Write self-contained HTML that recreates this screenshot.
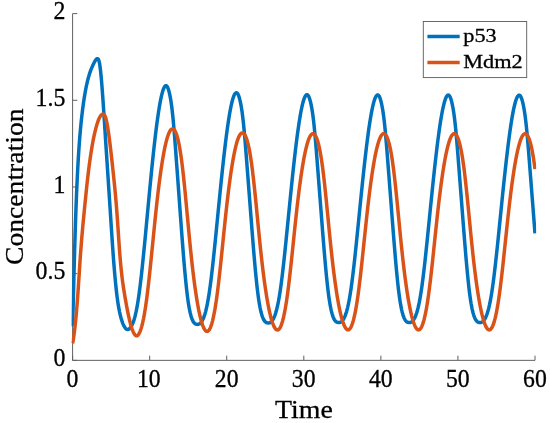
<!DOCTYPE html>
<html><head><meta charset="utf-8"><title>p53 Mdm2</title>
<style>
html,body{margin:0;padding:0;background:#fff;}
svg{display:block;}
text{font-family:"Liberation Serif",serif;fill:#000;stroke:#000;stroke-width:0.3px;}
</style></head>
<body>
<svg width="550" height="423" viewBox="0 0 550 423">
<rect width="550" height="423" fill="#fff"/>
<path d="M72.6,13.6 V360.35 H535.0 M72.60,360.35 v-4.7 M149.67,360.35 v-4.7 M226.73,360.35 v-4.7 M303.80,360.35 v-4.7 M380.87,360.35 v-4.7 M457.93,360.35 v-4.7 M535.00,360.35 v-4.7 M72.6,360.35 h4.7 M72.6,273.66 h4.7 M72.6,186.98 h4.7 M72.6,100.29 h4.7 M72.6,13.60 h4.7" fill="none" stroke="#606060" stroke-width="1"/>
<clipPath id="c"><rect x="71.6" y="11.6" width="464.59999999999997" height="348.75"/></clipPath>
<g clip-path="url(#c)" fill="none" stroke-width="3.5" stroke-linejoin="round" stroke-linecap="butt">
<path d="M72.6,326.2 L73.1,307.8 L73.6,288.7 L74.1,269.6 L74.6,251.4 L75.1,234.6 L75.6,219.3 L76.1,205.4 L76.6,192.8 L77.1,181.4 L77.6,171.1 L78.1,161.9 L78.6,153.6 L79.1,146.1 L79.6,139.4 L80.1,133.4 L80.6,127.8 L81.1,122.7 L81.6,118.0 L82.1,113.6 L82.6,109.5 L83.1,105.7 L83.6,102.1 L84.1,98.8 L84.6,95.7 L85.1,92.7 L85.6,90.0 L86.1,87.4 L86.6,85.0 L87.1,82.8 L87.6,80.7 L88.1,78.7 L88.6,76.9 L89.1,75.2 L89.6,73.6 L90.1,72.1 L90.6,70.7 L91.1,69.4 L91.6,68.2 L92.1,67.0 L92.6,65.9 L93.1,64.8 L93.6,63.8 L94.1,62.8 L94.6,61.8 L95.1,60.9 L95.6,60.1 L96.1,59.4 L96.6,58.9 L97.1,58.7 L97.6,58.7 L98.1,59.0 L98.6,59.8 L99.1,61.4 L99.6,63.7 L100.1,67.1 L100.6,71.3 L101.1,76.2 L101.6,81.9 L102.1,88.1 L102.6,94.8 L103.1,101.9 L103.6,109.3 L104.1,117.0 L104.6,124.7 L105.1,132.4 L105.6,140.1 L106.1,147.8 L106.6,155.4 L107.1,163.0 L107.6,170.6 L108.1,178.2 L108.6,185.8 L109.1,193.4 L109.6,201.0 L110.1,208.7 L110.6,216.4 L111.1,224.1 L111.6,231.7 L112.1,239.2 L112.6,246.5 L113.1,253.6 L113.6,260.3 L114.1,266.6 L114.6,272.6 L115.1,278.2 L115.6,283.4 L116.1,288.3 L116.6,292.8 L117.1,296.9 L117.6,300.6 L118.1,303.9 L118.6,306.9 L119.1,309.6 L119.6,312.1 L120.1,314.3 L120.6,316.3 L121.1,318.2 L121.6,319.9 L122.1,321.4 L122.6,322.8 L123.1,324.1 L123.6,325.2 L124.1,326.2 L124.6,327.1 L125.1,327.8 L125.6,328.4 L126.1,328.9 L126.6,329.2 L127.1,329.4 L127.6,329.5 L128.1,329.5 L128.6,329.3 L129.1,329.0 L129.6,328.5 L130.1,328.0 L130.6,327.3 L131.1,326.6 L131.6,325.8 L132.1,324.8 L132.6,323.7 L133.1,322.5 L133.6,321.1 L134.1,319.6 L134.6,317.9 L135.1,316.0 L135.6,313.9 L136.1,311.7 L136.6,309.2 L137.1,306.6 L137.6,303.7 L138.1,300.6 L138.6,297.3 L139.1,293.8 L139.6,290.0 L140.1,286.1 L140.6,281.9 L141.1,277.6 L141.6,273.2 L142.1,268.6 L142.6,263.8 L143.1,258.9 L143.6,254.0 L144.1,248.9 L144.6,243.8 L145.1,238.6 L145.6,233.3 L146.1,228.0 L146.6,222.7 L147.1,217.3 L147.6,212.0 L148.1,206.7 L148.6,201.4 L149.1,196.1 L149.6,190.9 L150.1,185.7 L150.6,180.6 L151.1,175.5 L151.6,170.5 L152.1,165.6 L152.6,160.8 L153.1,156.0 L153.6,151.4 L154.1,146.8 L154.6,142.4 L155.1,138.0 L155.6,133.8 L156.1,129.8 L156.6,125.8 L157.1,122.0 L157.6,118.4 L158.1,114.9 L158.6,111.6 L159.1,108.4 L159.6,105.4 L160.1,102.6 L160.6,100.0 L161.1,97.6 L161.6,95.4 L162.1,93.4 L162.6,91.6 L163.1,90.0 L163.6,88.7 L164.1,87.6 L164.6,86.7 L165.1,86.1 L165.6,85.8 L166.1,85.7 L166.6,85.9 L167.1,86.5 L167.6,87.3 L168.1,88.5 L168.6,90.0 L169.1,91.8 L169.6,93.9 L170.1,96.4 L170.6,99.1 L171.1,102.2 L171.6,105.8 L172.1,109.7 L172.6,114.2 L173.1,119.1 L173.6,124.6 L174.1,130.5 L174.6,136.7 L175.1,143.1 L175.6,149.7 L176.1,156.5 L176.6,163.3 L177.1,170.0 L177.6,176.9 L178.1,183.7 L178.6,190.5 L179.1,197.3 L179.6,204.2 L180.1,211.0 L180.6,217.8 L181.1,224.6 L181.6,231.3 L182.1,238.0 L182.6,244.5 L183.1,250.9 L183.6,257.1 L184.1,263.1 L184.6,268.8 L185.1,274.4 L185.6,279.7 L186.1,284.6 L186.6,289.3 L187.1,293.6 L187.6,297.6 L188.1,301.2 L188.6,304.4 L189.1,307.4 L189.6,310.0 L190.1,312.4 L190.6,314.4 L191.1,316.3 L191.6,317.9 L192.1,319.2 L192.6,320.4 L193.1,321.4 L193.6,322.2 L194.1,322.8 L194.6,323.3 L195.1,323.7 L195.6,324.0 L196.1,324.2 L196.6,324.3 L197.1,324.4 L197.6,324.4 L198.1,324.3 L198.6,324.2 L199.1,324.0 L199.6,323.8 L200.1,323.4 L200.6,322.9 L201.1,322.4 L201.6,321.7 L202.1,320.9 L202.6,320.0 L203.1,319.0 L203.6,317.8 L204.1,316.5 L204.6,315.0 L205.1,313.4 L205.6,311.6 L206.1,309.6 L206.6,307.4 L207.1,305.1 L207.6,302.6 L208.1,299.8 L208.6,296.9 L209.1,293.7 L209.6,290.3 L210.1,286.7 L210.6,283.0 L211.1,279.0 L211.6,274.9 L212.1,270.6 L212.6,266.2 L213.1,261.7 L213.6,257.0 L214.1,252.3 L214.6,247.4 L215.1,242.5 L215.6,237.6 L216.1,232.5 L216.6,227.5 L217.1,222.4 L217.6,217.3 L218.1,212.2 L218.6,207.2 L219.1,202.1 L219.6,197.1 L220.1,192.1 L220.6,187.2 L221.1,182.3 L221.6,177.5 L222.1,172.8 L222.6,168.1 L223.1,163.5 L223.6,159.0 L224.1,154.5 L224.6,150.2 L225.1,146.0 L225.6,141.9 L226.1,137.9 L226.6,134.0 L227.1,130.3 L227.6,126.7 L228.1,123.2 L228.6,119.9 L229.1,116.8 L229.6,113.8 L230.1,111.0 L230.6,108.3 L231.1,105.9 L231.6,103.6 L232.1,101.5 L232.6,99.7 L233.1,98.0 L233.6,96.5 L234.1,95.3 L234.6,94.3 L235.1,93.6 L235.6,93.0 L236.1,92.8 L236.6,92.7 L237.1,93.0 L237.6,93.5 L238.1,94.4 L238.6,95.6 L239.1,97.0 L239.6,98.8 L240.1,100.8 L240.6,103.1 L241.1,105.8 L241.6,108.8 L242.1,112.1 L242.6,115.9 L243.1,120.1 L243.6,124.8 L244.1,130.0 L244.6,135.6 L245.1,141.4 L245.6,147.5 L246.1,153.8 L246.6,160.2 L247.1,166.6 L247.6,173.1 L248.1,179.5 L248.6,186.0 L249.1,192.5 L249.6,199.0 L250.1,205.5 L250.6,212.0 L251.1,218.5 L251.6,224.9 L252.1,231.3 L252.6,237.7 L253.1,243.9 L253.6,250.0 L254.1,255.9 L254.6,261.7 L255.1,267.3 L255.6,272.6 L256.1,277.7 L256.6,282.6 L257.1,287.2 L257.6,291.4 L258.1,295.3 L258.6,298.9 L259.1,302.2 L259.6,305.1 L260.1,307.8 L260.6,310.2 L261.1,312.3 L261.6,314.1 L262.1,315.8 L262.6,317.2 L263.1,318.4 L263.6,319.5 L264.1,320.3 L264.6,321.1 L265.1,321.6 L265.6,322.1 L266.1,322.4 L266.6,322.7 L267.1,322.8 L267.6,322.9 L268.1,323.0 L268.6,323.0 L269.1,322.9 L269.6,322.8 L270.1,322.6 L270.6,322.3 L271.1,321.9 L271.6,321.4 L272.1,320.9 L272.6,320.2 L273.1,319.3 L273.6,318.4 L274.1,317.3 L274.6,316.1 L275.1,314.8 L275.6,313.3 L276.1,311.6 L276.6,309.7 L277.1,307.7 L277.6,305.5 L278.1,303.1 L278.6,300.5 L279.1,297.7 L279.6,294.7 L280.1,291.5 L280.6,288.1 L281.1,284.4 L281.6,280.6 L282.1,276.6 L282.6,272.5 L283.1,268.2 L283.6,263.7 L284.1,259.2 L284.6,254.5 L285.1,249.8 L285.6,244.9 L286.1,240.0 L286.6,235.0 L287.1,230.0 L287.6,225.0 L288.1,220.0 L288.6,214.9 L289.1,209.9 L289.6,204.8 L290.1,199.8 L290.6,194.9 L291.1,190.0 L291.6,185.1 L292.1,180.3 L292.6,175.5 L293.1,170.9 L293.6,166.3 L294.1,161.8 L294.6,157.3 L295.1,153.0 L295.6,148.8 L296.1,144.6 L296.6,140.6 L297.1,136.8 L297.6,133.0 L298.1,129.4 L298.6,125.9 L299.1,122.6 L299.6,119.4 L300.1,116.4 L300.6,113.5 L301.1,110.8 L301.6,108.4 L302.1,106.0 L302.6,103.9 L303.1,102.0 L303.6,100.3 L304.1,98.8 L304.6,97.5 L305.1,96.5 L305.6,95.7 L306.1,95.1 L306.6,94.8 L307.1,94.7 L307.6,94.9 L308.1,95.4 L308.6,96.2 L309.1,97.3 L309.6,98.7 L310.1,100.4 L310.6,102.3 L311.1,104.6 L311.6,107.2 L312.1,110.1 L312.6,113.3 L313.1,117.0 L313.6,121.1 L314.1,125.7 L314.6,130.8 L315.1,136.3 L315.6,142.1 L316.1,148.1 L316.6,154.3 L317.1,160.6 L317.6,167.0 L318.1,173.4 L318.6,179.8 L319.1,186.3 L319.6,192.7 L320.1,199.1 L320.6,205.6 L321.1,212.0 L321.6,218.5 L322.1,224.9 L322.6,231.3 L323.1,237.5 L323.6,243.7 L324.1,249.8 L324.6,255.7 L325.1,261.4 L325.6,267.0 L326.1,272.3 L326.6,277.4 L327.1,282.3 L327.6,286.8 L328.1,291.1 L328.6,295.0 L329.1,298.5 L329.6,301.8 L330.1,304.7 L330.6,307.4 L331.1,309.8 L331.6,311.9 L332.1,313.8 L332.6,315.4 L333.1,316.8 L333.6,318.1 L334.1,319.1 L334.6,320.0 L335.1,320.7 L335.6,321.2 L336.1,321.7 L336.6,322.0 L337.1,322.3 L337.6,322.4 L338.1,322.5 L338.6,322.6 L339.1,322.6 L339.6,322.5 L340.1,322.4 L340.6,322.2 L341.1,321.9 L341.6,321.5 L342.1,321.1 L342.6,320.5 L343.1,319.8 L343.6,319.0 L344.1,318.1 L344.6,317.0 L345.1,315.8 L345.6,314.5 L346.1,313.0 L346.6,311.4 L347.1,309.5 L347.6,307.6 L348.1,305.4 L348.6,303.0 L349.1,300.5 L349.6,297.7 L350.1,294.8 L350.6,291.6 L351.1,288.2 L351.6,284.6 L352.1,280.8 L352.6,276.9 L353.1,272.8 L353.6,268.6 L354.1,264.2 L354.6,259.7 L355.1,255.1 L355.6,250.4 L356.1,245.6 L356.6,240.7 L357.1,235.8 L357.6,230.9 L358.1,225.9 L358.6,220.9 L359.1,215.8 L359.6,210.8 L360.1,205.8 L360.6,200.9 L361.1,195.9 L361.6,191.1 L362.1,186.2 L362.6,181.4 L363.1,176.7 L363.6,172.1 L364.1,167.5 L364.6,163.0 L365.1,158.5 L365.6,154.2 L366.1,150.0 L366.6,145.9 L367.1,141.9 L367.6,138.0 L368.1,134.2 L368.6,130.6 L369.1,127.1 L369.6,123.7 L370.1,120.5 L370.6,117.5 L371.1,114.6 L371.6,111.9 L372.1,109.3 L372.6,107.0 L373.1,104.8 L373.6,102.9 L374.1,101.1 L374.6,99.5 L375.1,98.2 L375.6,97.1 L376.1,96.2 L376.6,95.5 L377.1,95.1 L377.6,94.9 L378.1,95.0 L378.6,95.4 L379.1,96.1 L379.6,97.0 L380.1,98.3 L380.6,99.9 L381.1,101.8 L381.6,104.0 L382.1,106.5 L382.6,109.3 L383.1,112.4 L383.6,116.0 L384.1,119.9 L384.6,124.4 L385.1,129.4 L385.6,134.8 L386.1,140.5 L386.6,146.5 L387.1,152.7 L387.6,159.0 L388.1,165.4 L388.6,171.9 L389.1,178.3 L389.6,184.8 L390.1,191.2 L390.6,197.7 L391.1,204.2 L391.6,210.7 L392.1,217.2 L392.6,223.6 L393.1,230.0 L393.6,236.4 L394.1,242.6 L394.6,248.7 L395.1,254.7 L395.6,260.5 L396.1,266.1 L396.6,271.5 L397.1,276.7 L397.6,281.6 L398.1,286.2 L398.6,290.5 L399.1,294.5 L399.6,298.1 L400.1,301.4 L400.6,304.4 L401.1,307.1 L401.6,309.6 L402.1,311.7 L402.6,313.6 L403.1,315.3 L403.6,316.7 L404.1,318.0 L404.6,319.0 L405.1,319.9 L405.6,320.6 L406.1,321.2 L406.6,321.7 L407.1,322.0 L407.6,322.3 L408.1,322.4 L408.6,322.5 L409.1,322.6 L409.6,322.6 L410.1,322.5 L410.6,322.4 L411.1,322.2 L411.6,321.9 L412.1,321.5 L412.6,321.1 L413.1,320.5 L413.6,319.8 L414.1,319.0 L414.6,318.1 L415.1,317.1 L415.6,315.9 L416.1,314.5 L416.6,313.1 L417.1,311.4 L417.6,309.6 L418.1,307.7 L418.6,305.5 L419.1,303.2 L419.6,300.6 L420.1,297.9 L420.6,295.0 L421.1,291.8 L421.6,288.4 L422.1,284.9 L422.6,281.1 L423.1,277.2 L423.6,273.1 L424.1,268.9 L424.6,264.6 L425.1,260.1 L425.6,255.5 L426.1,250.8 L426.6,246.0 L427.1,241.2 L427.6,236.3 L428.1,231.4 L428.6,226.4 L429.1,221.4 L429.6,216.4 L430.1,211.4 L430.6,206.4 L431.1,201.5 L431.6,196.6 L432.1,191.7 L432.6,186.9 L433.1,182.1 L433.6,177.4 L434.1,172.7 L434.6,168.1 L435.1,163.6 L435.6,159.2 L436.1,154.9 L436.6,150.7 L437.1,146.5 L437.6,142.5 L438.1,138.6 L438.6,134.9 L439.1,131.2 L439.6,127.7 L440.1,124.3 L440.6,121.1 L441.1,118.1 L441.6,115.2 L442.1,112.4 L442.6,109.9 L443.1,107.5 L443.6,105.3 L444.1,103.3 L444.6,101.5 L445.1,99.9 L445.6,98.5 L446.1,97.4 L446.6,96.4 L447.1,95.7 L447.6,95.2 L448.1,95.0 L448.6,95.1 L449.1,95.4 L449.6,96.0 L450.1,96.9 L450.6,98.1 L451.1,99.6 L451.6,101.4 L452.1,103.6 L452.6,106.0 L453.1,108.7 L453.6,111.7 L454.1,115.2 L454.6,119.0 L455.1,123.4 L455.6,128.2 L456.1,133.5 L456.6,139.1 L457.1,145.0 L457.6,151.1 L458.1,157.4 L458.6,163.8 L459.1,170.2 L459.6,176.6 L460.1,183.1 L460.6,189.5 L461.1,196.0 L461.6,202.4 L462.1,208.9 L462.6,215.3 L463.1,221.8 L463.6,228.2 L464.1,234.5 L464.6,240.8 L465.1,246.9 L465.6,252.9 L466.1,258.8 L466.6,264.4 L467.1,269.9 L467.6,275.1 L468.1,280.1 L468.6,284.8 L469.1,289.2 L469.6,293.2 L470.1,297.0 L470.6,300.4 L471.1,303.5 L471.6,306.2 L472.1,308.8 L472.6,311.0 L473.1,313.0 L473.6,314.7 L474.1,316.2 L474.6,317.6 L475.1,318.7 L475.6,319.6 L476.1,320.4 L476.6,321.0 L477.1,321.5 L477.6,321.9 L478.1,322.2 L478.6,322.4 L479.1,322.5 L479.6,322.6 L480.1,322.6 L480.6,322.6 L481.1,322.5 L481.6,322.3 L482.1,322.0 L482.6,321.7 L483.1,321.3 L483.6,320.8 L484.1,320.1 L484.6,319.4 L485.1,318.5 L485.6,317.6 L486.1,316.4 L486.6,315.2 L487.1,313.8 L487.6,312.2 L488.1,310.5 L488.6,308.7 L489.1,306.6 L489.6,304.4 L490.1,301.9 L490.6,299.3 L491.1,296.5 L491.6,293.5 L492.1,290.2 L492.6,286.8 L493.1,283.2 L493.6,279.4 L494.1,275.4 L494.6,271.3 L495.1,267.0 L495.6,262.6 L496.1,258.1 L496.6,253.5 L497.1,248.9 L497.6,244.1 L498.1,239.3 L498.6,234.4 L499.1,229.4 L499.6,224.5 L500.1,219.5 L500.6,214.6 L501.1,209.6 L501.6,204.7 L502.1,199.7 L502.6,194.9 L503.1,190.0 L503.6,185.3 L504.1,180.5 L504.6,175.9 L505.1,171.3 L505.6,166.7 L506.1,162.3 L506.6,157.9 L507.1,153.7 L507.6,149.5 L508.1,145.4 L508.6,141.5 L509.1,137.6 L509.6,133.9 L510.1,130.3 L510.6,126.9 L511.1,123.6 L511.6,120.4 L512.1,117.4 L512.6,114.6 L513.1,111.9 L513.6,109.4 L514.1,107.1 L514.6,105.0 L515.1,103.0 L515.6,101.3 L516.1,99.8 L516.6,98.4 L517.1,97.3 L517.6,96.4 L518.1,95.8 L518.6,95.4 L519.1,95.2 L519.6,95.3 L520.1,95.7 L520.6,96.3 L521.1,97.3 L521.6,98.6 L522.1,100.1 L522.6,101.9 L523.1,104.1 L523.6,106.5 L524.1,109.3 L524.6,112.4 L525.1,115.8 L525.6,119.7 L526.1,124.1 L526.6,128.9 L527.1,134.2 L527.6,139.8 L528.1,145.7 L528.6,151.8 L529.1,158.1 L529.6,164.4 L530.1,170.8 L530.6,177.1 L531.1,183.5 L531.6,189.9 L532.1,196.3 L532.6,202.7 L533.1,209.1 L533.6,215.6 L534.1,222.0 L534.6,228.3 L535.0,233.3" stroke="#0072BD"/>
<path d="M72.6,343.4 L73.1,340.7 L73.6,337.6 L74.1,334.1 L74.6,330.2 L75.1,325.9 L75.6,321.2 L76.1,316.0 L76.6,310.4 L77.1,304.2 L77.6,297.6 L78.1,290.5 L78.6,282.9 L79.1,275.3 L79.6,267.6 L80.1,260.0 L80.6,252.9 L81.1,246.3 L81.6,240.0 L82.1,234.1 L82.6,228.4 L83.1,223.0 L83.6,217.8 L84.1,212.7 L84.6,207.6 L85.1,202.5 L85.6,197.6 L86.1,192.7 L86.6,187.9 L87.1,183.3 L87.6,178.8 L88.1,174.5 L88.6,170.3 L89.1,166.3 L89.6,162.5 L90.1,158.9 L90.6,155.5 L91.1,152.2 L91.6,149.1 L92.1,146.1 L92.6,143.3 L93.1,140.6 L93.6,138.1 L94.1,135.7 L94.6,133.4 L95.1,131.3 L95.6,129.3 L96.1,127.4 L96.6,125.6 L97.1,124.0 L97.6,122.4 L98.1,121.0 L98.6,119.7 L99.1,118.5 L99.6,117.5 L100.1,116.6 L100.6,115.8 L101.1,115.2 L101.6,114.7 L102.1,114.3 L102.6,114.1 L103.1,114.0 L103.6,114.1 L104.1,114.5 L104.6,115.2 L105.1,116.2 L105.6,117.5 L106.1,119.3 L106.6,121.4 L107.1,123.9 L107.6,126.7 L108.1,129.8 L108.6,133.2 L109.1,136.8 L109.6,140.7 L110.1,144.7 L110.6,148.9 L111.1,153.3 L111.6,157.7 L112.1,162.3 L112.6,166.9 L113.1,171.6 L113.6,176.3 L114.1,181.1 L114.6,186.0 L115.1,191.2 L115.6,196.6 L116.1,202.4 L116.6,208.6 L117.1,215.2 L117.6,222.3 L118.1,229.7 L118.6,237.1 L119.1,244.4 L119.6,251.3 L120.1,257.7 L120.6,263.4 L121.1,268.6 L121.6,273.3 L122.1,277.6 L122.6,281.5 L123.1,285.1 L123.6,288.4 L124.1,291.6 L124.6,294.6 L125.1,297.6 L125.6,300.4 L126.1,303.2 L126.6,306.0 L127.1,308.6 L127.6,311.1 L128.1,313.6 L128.6,315.9 L129.1,318.1 L129.6,320.3 L130.1,322.3 L130.6,324.2 L131.1,325.9 L131.6,327.6 L132.1,329.1 L132.6,330.4 L133.1,331.6 L133.6,332.7 L134.1,333.6 L134.6,334.4 L135.1,335.0 L135.6,335.4 L136.1,335.7 L136.6,335.8 L137.1,335.7 L137.6,335.4 L138.1,334.9 L138.6,334.3 L139.1,333.5 L139.6,332.5 L140.1,331.4 L140.6,330.0 L141.1,328.6 L141.6,326.9 L142.1,325.0 L142.6,323.0 L143.1,320.7 L143.6,318.3 L144.1,315.6 L144.6,312.8 L145.1,309.7 L145.6,306.5 L146.1,303.1 L146.6,299.4 L147.1,295.6 L147.6,291.5 L148.1,287.3 L148.6,283.0 L149.1,278.5 L149.6,273.8 L150.1,269.1 L150.6,264.3 L151.1,259.4 L151.6,254.4 L152.1,249.4 L152.6,244.4 L153.1,239.3 L153.6,234.3 L154.1,229.3 L154.6,224.4 L155.1,219.5 L155.6,214.6 L156.1,209.9 L156.6,205.3 L157.1,200.8 L157.6,196.4 L158.1,192.1 L158.6,188.0 L159.1,184.0 L159.6,180.1 L160.1,176.4 L160.6,172.8 L161.1,169.3 L161.6,165.9 L162.1,162.7 L162.6,159.6 L163.1,156.7 L163.6,153.9 L164.1,151.2 L164.6,148.7 L165.1,146.3 L165.6,144.1 L166.1,142.0 L166.6,140.1 L167.1,138.3 L167.6,136.7 L168.1,135.2 L168.6,133.9 L169.1,132.7 L169.6,131.7 L170.1,130.8 L170.6,130.1 L171.1,129.6 L171.6,129.2 L172.1,129.0 L172.6,128.9 L173.1,129.0 L173.6,129.3 L174.1,129.7 L174.6,130.3 L175.1,131.1 L175.6,132.1 L176.1,133.3 L176.6,134.6 L177.1,136.2 L177.6,138.0 L178.1,140.0 L178.6,142.2 L179.1,144.6 L179.6,147.3 L180.1,150.2 L180.6,153.4 L181.1,156.8 L181.6,160.5 L182.1,164.4 L182.6,168.5 L183.1,172.9 L183.6,177.5 L184.1,182.2 L184.6,187.1 L185.1,192.2 L185.6,197.3 L186.1,202.6 L186.6,207.9 L187.1,213.3 L187.6,218.7 L188.1,224.1 L188.6,229.4 L189.1,234.7 L189.6,239.9 L190.1,245.0 L190.6,250.0 L191.1,254.8 L191.6,259.5 L192.1,264.0 L192.6,268.4 L193.1,272.6 L193.6,276.7 L194.1,280.6 L194.6,284.4 L195.1,288.0 L195.6,291.5 L196.1,294.8 L196.6,298.0 L197.1,301.1 L197.6,304.0 L198.1,306.8 L198.6,309.4 L199.1,311.9 L199.6,314.2 L200.1,316.4 L200.6,318.4 L201.1,320.3 L201.6,322.1 L202.1,323.7 L202.6,325.1 L203.1,326.4 L203.6,327.6 L204.1,328.6 L204.6,329.4 L205.1,330.1 L205.6,330.7 L206.1,331.1 L206.6,331.3 L207.1,331.4 L207.6,331.3 L208.1,331.1 L208.6,330.6 L209.1,330.0 L209.6,329.2 L210.1,328.2 L210.6,327.1 L211.1,325.7 L211.6,324.2 L212.1,322.5 L212.6,320.6 L213.1,318.5 L213.6,316.2 L214.1,313.7 L214.6,311.1 L215.1,308.2 L215.6,305.1 L216.1,301.9 L216.6,298.4 L217.1,294.8 L217.6,290.9 L218.1,286.9 L218.6,282.7 L219.1,278.3 L219.6,273.8 L220.1,269.2 L220.6,264.5 L221.1,259.8 L221.6,254.9 L222.1,250.1 L222.6,245.2 L223.1,240.2 L223.6,235.3 L224.1,230.4 L224.6,225.6 L225.1,220.8 L225.6,216.0 L226.1,211.4 L226.6,206.9 L227.1,202.5 L227.6,198.2 L228.1,194.0 L228.6,189.9 L229.1,186.0 L229.6,182.2 L230.1,178.6 L230.6,175.0 L231.1,171.6 L231.6,168.4 L232.1,165.2 L232.6,162.2 L233.1,159.4 L233.6,156.6 L234.1,154.1 L234.6,151.6 L235.1,149.3 L235.6,147.2 L236.1,145.1 L236.6,143.3 L237.1,141.6 L237.6,140.0 L238.1,138.6 L238.6,137.3 L239.1,136.2 L239.6,135.3 L240.1,134.5 L240.6,133.9 L241.1,133.4 L241.6,133.1 L242.1,132.9 L242.6,132.9 L243.1,133.1 L243.6,133.4 L244.1,133.9 L244.6,134.5 L245.1,135.3 L245.6,136.3 L246.1,137.5 L246.6,138.9 L247.1,140.4 L247.6,142.2 L248.1,144.1 L248.6,146.3 L249.1,148.6 L249.6,151.2 L250.1,154.1 L250.6,157.1 L251.1,160.4 L251.6,163.9 L252.1,167.7 L252.6,171.7 L253.1,175.9 L253.6,180.2 L254.1,184.8 L254.6,189.5 L255.1,194.3 L255.6,199.2 L256.1,204.2 L256.6,209.3 L257.1,214.5 L257.6,219.6 L258.1,224.8 L258.6,229.9 L259.1,235.0 L259.6,240.0 L260.1,244.9 L260.6,249.7 L261.1,254.3 L261.6,258.8 L262.1,263.2 L262.6,267.4 L263.1,271.5 L263.6,275.4 L264.1,279.2 L264.6,282.9 L265.1,286.4 L265.6,289.8 L266.1,293.1 L266.6,296.2 L267.1,299.2 L267.6,302.0 L268.1,304.8 L268.6,307.3 L269.1,309.8 L269.6,312.1 L270.1,314.2 L270.6,316.3 L271.1,318.2 L271.6,319.9 L272.1,321.5 L272.6,323.0 L273.1,324.4 L273.6,325.6 L274.1,326.6 L274.6,327.5 L275.1,328.3 L275.6,328.9 L276.1,329.4 L276.6,329.8 L277.1,329.9 L277.6,330.0 L278.1,329.9 L278.6,329.6 L279.1,329.1 L279.6,328.5 L280.1,327.7 L280.6,326.7 L281.1,325.5 L281.6,324.2 L282.1,322.6 L282.6,320.9 L283.1,319.0 L283.6,317.0 L284.1,314.7 L284.6,312.2 L285.1,309.6 L285.6,306.7 L286.1,303.7 L286.6,300.5 L287.1,297.1 L287.6,293.4 L288.1,289.6 L288.6,285.6 L289.1,281.5 L289.6,277.2 L290.1,272.8 L290.6,268.3 L291.1,263.7 L291.6,259.0 L292.1,254.2 L292.6,249.4 L293.1,244.6 L293.6,239.8 L294.1,234.9 L294.6,230.1 L295.1,225.3 L295.6,220.6 L296.1,216.0 L296.6,211.4 L297.1,206.9 L297.6,202.6 L298.1,198.4 L298.6,194.3 L299.1,190.3 L299.6,186.4 L300.1,182.7 L300.6,179.1 L301.1,175.6 L301.6,172.2 L302.1,169.0 L302.6,165.9 L303.1,163.0 L303.6,160.1 L304.1,157.4 L304.6,154.9 L305.1,152.5 L305.6,150.2 L306.1,148.1 L306.6,146.1 L307.1,144.2 L307.6,142.5 L308.1,140.9 L308.6,139.5 L309.1,138.3 L309.6,137.2 L310.1,136.2 L310.6,135.4 L311.1,134.7 L311.6,134.2 L312.1,133.9 L312.6,133.7 L313.1,133.7 L313.6,133.8 L314.1,134.1 L314.6,134.6 L315.1,135.2 L315.6,136.0 L316.1,136.9 L316.6,138.0 L317.1,139.4 L317.6,140.9 L318.1,142.6 L318.6,144.5 L319.1,146.6 L319.6,148.9 L320.1,151.4 L320.6,154.2 L321.1,157.2 L321.6,160.4 L322.1,163.9 L322.6,167.6 L323.1,171.5 L323.6,175.6 L324.1,179.9 L324.6,184.4 L325.1,189.1 L325.6,193.9 L326.1,198.7 L326.6,203.7 L327.1,208.8 L327.6,213.9 L328.1,219.0 L328.6,224.1 L329.1,229.3 L329.6,234.3 L330.1,239.3 L330.6,244.2 L331.1,249.0 L331.6,253.7 L332.1,258.2 L332.6,262.5 L333.1,266.8 L333.6,270.9 L334.1,274.8 L334.6,278.6 L335.1,282.3 L335.6,285.8 L336.1,289.3 L336.6,292.5 L337.1,295.7 L337.6,298.7 L338.1,301.5 L338.6,304.2 L339.1,306.8 L339.6,309.3 L340.1,311.6 L340.6,313.8 L341.1,315.8 L341.6,317.7 L342.1,319.5 L342.6,321.2 L343.1,322.7 L343.6,324.0 L344.1,325.3 L344.6,326.3 L345.1,327.3 L345.6,328.1 L346.1,328.7 L346.6,329.2 L347.1,329.6 L347.6,329.8 L348.1,329.9 L348.6,329.8 L349.1,329.6 L349.6,329.1 L350.1,328.5 L350.6,327.8 L351.1,326.8 L351.6,325.7 L352.1,324.4 L352.6,322.9 L353.1,321.3 L353.6,319.5 L354.1,317.4 L354.6,315.2 L355.1,312.8 L355.6,310.3 L356.1,307.5 L356.6,304.5 L357.1,301.4 L357.6,298.0 L358.1,294.5 L358.6,290.8 L359.1,286.9 L359.6,282.8 L360.1,278.6 L360.6,274.2 L361.1,269.8 L361.6,265.2 L362.1,260.6 L362.6,255.9 L363.1,251.1 L363.6,246.3 L364.1,241.5 L364.6,236.7 L365.1,231.9 L365.6,227.2 L366.1,222.5 L366.6,217.8 L367.1,213.2 L367.6,208.8 L368.1,204.4 L368.6,200.1 L369.1,196.0 L369.6,192.0 L370.1,188.1 L370.6,184.3 L371.1,180.7 L371.6,177.2 L372.1,173.8 L372.6,170.5 L373.1,167.4 L373.6,164.4 L374.1,161.5 L374.6,158.7 L375.1,156.1 L375.6,153.7 L376.1,151.3 L376.6,149.1 L377.1,147.1 L377.6,145.2 L378.1,143.4 L378.6,141.8 L379.1,140.3 L379.6,139.0 L380.1,137.8 L380.6,136.7 L381.1,135.8 L381.6,135.1 L382.1,134.5 L382.6,134.1 L383.1,133.8 L383.6,133.7 L384.1,133.8 L384.6,133.9 L385.1,134.3 L385.6,134.8 L386.1,135.5 L386.6,136.4 L387.1,137.4 L387.6,138.6 L388.1,140.0 L388.6,141.7 L389.1,143.5 L389.6,145.5 L390.1,147.7 L390.6,150.2 L391.1,152.9 L391.6,155.8 L392.1,158.9 L392.6,162.3 L393.1,165.9 L393.6,169.8 L394.1,173.9 L394.6,178.1 L395.1,182.6 L395.6,187.2 L396.1,192.0 L396.6,196.9 L397.1,201.9 L397.6,206.9 L398.1,212.1 L398.6,217.2 L399.1,222.4 L399.6,227.6 L400.1,232.7 L400.6,237.8 L401.1,242.8 L401.6,247.6 L402.1,252.4 L402.6,256.9 L403.1,261.4 L403.6,265.7 L404.1,269.8 L404.6,273.9 L405.1,277.8 L405.6,281.5 L406.1,285.1 L406.6,288.6 L407.1,291.9 L407.6,295.1 L408.1,298.1 L408.6,301.0 L409.1,303.8 L409.6,306.4 L410.1,308.9 L410.6,311.3 L411.1,313.5 L411.6,315.6 L412.1,317.5 L412.6,319.3 L413.1,321.0 L413.6,322.5 L414.1,323.9 L414.6,325.2 L415.1,326.3 L415.6,327.2 L416.1,328.0 L416.6,328.7 L417.1,329.2 L417.6,329.6 L418.1,329.8 L418.6,329.9 L419.1,329.8 L419.6,329.6 L420.1,329.1 L420.6,328.5 L421.1,327.8 L421.6,326.8 L422.1,325.7 L422.6,324.4 L423.1,322.9 L423.6,321.3 L424.1,319.5 L424.6,317.4 L425.1,315.2 L425.6,312.8 L426.1,310.3 L426.6,307.5 L427.1,304.5 L427.6,301.4 L428.1,298.0 L428.6,294.5 L429.1,290.8 L429.6,286.9 L430.1,282.8 L430.6,278.6 L431.1,274.2 L431.6,269.8 L432.1,265.2 L432.6,260.6 L433.1,255.9 L433.6,251.1 L434.1,246.3 L434.6,241.5 L435.1,236.7 L435.6,231.9 L436.1,227.2 L436.6,222.5 L437.1,217.8 L437.6,213.2 L438.1,208.8 L438.6,204.4 L439.1,200.1 L439.6,196.0 L440.1,192.0 L440.6,188.1 L441.1,184.3 L441.6,180.7 L442.1,177.2 L442.6,173.8 L443.1,170.5 L443.6,167.4 L444.1,164.4 L444.6,161.5 L445.1,158.7 L445.6,156.1 L446.1,153.7 L446.6,151.3 L447.1,149.1 L447.6,147.1 L448.1,145.2 L448.6,143.4 L449.1,141.8 L449.6,140.3 L450.1,139.0 L450.6,137.8 L451.1,136.7 L451.6,135.8 L452.1,135.1 L452.6,134.5 L453.1,134.1 L453.6,133.8 L454.1,133.7 L454.6,133.7 L455.1,133.9 L455.6,134.3 L456.1,134.8 L456.6,135.5 L457.1,136.3 L457.6,137.4 L458.1,138.6 L458.6,140.0 L459.1,141.6 L459.6,143.4 L460.1,145.3 L460.6,147.6 L461.1,150.0 L461.6,152.6 L462.1,155.5 L462.6,158.6 L463.1,161.9 L463.6,165.5 L464.1,169.3 L464.6,173.4 L465.1,177.6 L465.6,182.0 L466.1,186.6 L466.6,191.3 L467.1,196.2 L467.6,201.1 L468.1,206.1 L468.6,211.2 L469.1,216.4 L469.6,221.5 L470.1,226.7 L470.6,231.8 L471.1,236.8 L471.6,241.8 L472.1,246.6 L472.6,251.4 L473.1,256.0 L473.6,260.4 L474.1,264.7 L474.6,268.9 L475.1,272.9 L475.6,276.8 L476.1,280.6 L476.6,284.2 L477.1,287.7 L477.6,291.0 L478.1,294.2 L478.6,297.3 L479.1,300.2 L479.6,303.0 L480.1,305.7 L480.6,308.2 L481.1,310.6 L481.6,312.8 L482.1,314.9 L482.6,316.9 L483.1,318.8 L483.6,320.5 L484.1,322.0 L484.6,323.5 L485.1,324.7 L485.6,325.9 L486.1,326.9 L486.6,327.8 L487.1,328.5 L487.6,329.0 L488.1,329.5 L488.6,329.8 L489.1,329.9 L489.6,329.9 L490.1,329.7 L490.6,329.3 L491.1,328.8 L491.6,328.1 L492.1,327.3 L492.6,326.2 L493.1,325.0 L493.6,323.6 L494.1,322.1 L494.6,320.3 L495.1,318.4 L495.6,316.3 L496.1,314.0 L496.6,311.5 L497.1,308.9 L497.6,306.0 L498.1,303.0 L498.6,299.8 L499.1,296.3 L499.6,292.7 L500.1,288.9 L500.6,285.0 L501.1,280.9 L501.6,276.6 L502.1,272.2 L502.6,267.7 L503.1,263.2 L503.6,258.5 L504.1,253.8 L504.6,249.1 L505.1,244.3 L505.6,239.5 L506.1,234.8 L506.6,230.0 L507.1,225.3 L507.6,220.6 L508.1,216.0 L508.6,211.5 L509.1,207.1 L509.6,202.8 L510.1,198.6 L510.6,194.5 L511.1,190.6 L511.6,186.8 L512.1,183.1 L512.6,179.5 L513.1,176.0 L513.6,172.7 L514.1,169.5 L514.6,166.4 L515.1,163.5 L515.6,160.6 L516.1,158.0 L516.6,155.4 L517.1,153.0 L517.6,150.7 L518.1,148.6 L518.6,146.5 L519.1,144.7 L519.6,143.0 L520.1,141.4 L520.6,139.9 L521.1,138.6 L521.6,137.5 L522.1,136.5 L522.6,135.7 L523.1,135.0 L523.6,134.4 L524.1,134.0 L524.6,133.8 L525.1,133.7 L525.6,133.8 L526.1,134.0 L526.6,134.4 L527.1,134.9 L527.6,135.6 L528.1,136.5 L528.6,137.6 L529.1,138.8 L529.6,140.2 L530.1,141.9 L530.6,143.7 L531.1,145.7 L531.6,147.9 L532.1,150.4 L532.6,153.1 L533.1,155.9 L533.6,159.1 L534.1,162.4 L534.6,166.0 L535.0,169.1" stroke="#D95319"/>
</g>
<rect x="423.3" y="21.5" width="103.4" height="56.1" fill="#fff" stroke="#5a5a5a" stroke-width="0.9"/>
<path d="M427.4,36.4 H459.7" stroke="#0072BD" stroke-width="3.5"/>
<path d="M427.4,62.6 H459.7" stroke="#D95319" stroke-width="3.5"/>
<text transform="translate(72.50,387.20) scale(0.98,1)" text-anchor="middle" font-size="24.2">0</text>
<text transform="translate(148.77,387.20) scale(0.98,1)" text-anchor="middle" font-size="24.2">10</text>
<text transform="translate(226.63,387.20) scale(0.98,1)" text-anchor="middle" font-size="24.2">20</text>
<text transform="translate(303.70,387.20) scale(0.98,1)" text-anchor="middle" font-size="24.2">30</text>
<text transform="translate(380.77,387.20) scale(0.98,1)" text-anchor="middle" font-size="24.2">40</text>
<text transform="translate(457.83,387.20) scale(0.98,1)" text-anchor="middle" font-size="24.2">50</text>
<text transform="translate(534.90,387.20) scale(0.98,1)" text-anchor="middle" font-size="24.2">60</text>
<text transform="translate(65.30,365.95) scale(0.985,1)" text-anchor="end" font-size="24.2">0</text>
<text transform="translate(65.30,279.26) scale(0.985,1)" text-anchor="end" font-size="24.2">0.5</text>
<text transform="translate(65.30,192.58) scale(0.985,1)" text-anchor="end" font-size="24.2">1</text>
<text transform="translate(65.30,105.89) scale(0.985,1)" text-anchor="end" font-size="24.2">1.5</text>
<text transform="translate(65.30,19.20) scale(0.985,1)" text-anchor="end" font-size="24.2">2</text>
<text transform="translate(303.90,418.10) scale(1.078,1)" text-anchor="middle" font-size="25.8">Time</text>
<text transform="translate(22.60,186.70) rotate(-90) scale(1.071,1)" text-anchor="middle" font-size="25.8">Concentration</text>
<text transform="translate(463.30,42.20) scale(1.15,1)" text-anchor="start" font-size="19.4">p53</text>
<text transform="translate(463.30,67.80) scale(1.15,1)" text-anchor="start" font-size="19.4">Mdm2</text>
</svg>
</body></html>
